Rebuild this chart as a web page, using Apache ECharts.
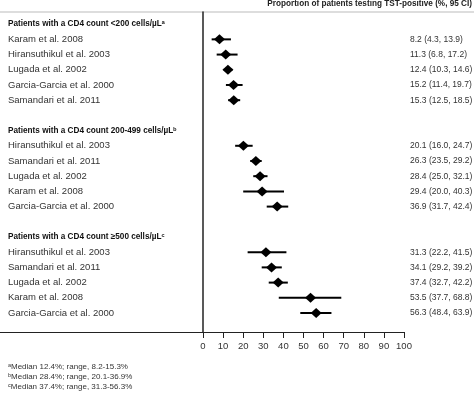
<!DOCTYPE html>
<html>
<head>
<meta charset="utf-8">
<script src="https://cdn.jsdelivr.net/npm/echarts@6/dist/echarts.min.js"></script>
<style>
html,body{margin:0;padding:0;background:#fff;}
#chart{width:474px;height:393px;}
</style>
</head>
<body>
<div id="chart"></div>
<script>
// ---- data ----
var groupHeaders = [
  'Patients with a CD4 count <200 cells/\u00b5L\u1d43',
  'Patients with a CD4 count 200-499 cells/\u00b5L\u1d47',
  'Patients with a CD4 count \u2265500 cells/\u00b5L\u1d9c'
];
var group1Studies = ['Karam et al. 2008', 'Hiransuthikul et al. 2003', 'Lugada et al. 2002', 'Garcia-Garcia et al. 2000', 'Samandari et al. 2011'];
var group1Est = [8.2, 11.3, 12.4, 15.2, 15.3];
var group1Lo = [4.3, 6.8, 10.3, 11.4, 12.5];
var group1Hi = [13.9, 17.2, 14.6, 19.7, 18.5];

var group2Studies = ['Hiransuthikul et al. 2003', 'Samandari et al. 2011', 'Lugada et al. 2002', 'Karam et al. 2008', 'Garcia-Garcia et al. 2000'];
var group2Est = [20.1, 26.3, 28.4, 29.4, 36.9];
var group2Lo = [16.0, 23.5, 25.0, 20.0, 31.7];
var group2Hi = [24.7, 29.2, 32.1, 40.3, 42.4];

var group3Studies = ['Hiransuthikul et al. 2003', 'Samandari et al. 2011', 'Lugada et al. 2002', 'Karam et al. 2008', 'Garcia-Garcia et al. 2000'];
var group3Est = [31.3, 34.1, 37.4, 53.5, 56.3];
var group3Lo = [22.2, 29.2, 32.7, 37.7, 48.4];
var group3Hi = [41.5, 39.2, 42.2, 68.8, 63.9];

var xTicks = [0, 10, 20, 30, 40, 50, 60, 70, 80, 90, 100];
var titleText = 'Proportion of patients testing TST-positive (%, 95 CI)';
var footnotes = [
  '\u1d43Median 12.4%; range, 8.2-15.3%',
  '\u1d47Median 28.4%; range, 20.1-36.9%',
  '\u1d9cMedian 37.4%; range, 31.3-56.3%'
];

// ---- build rows ----
var groups = [
  {s: group1Studies, e: group1Est, l: group1Lo, h: group1Hi},
  {s: group2Studies, e: group2Est, l: group2Lo, h: group2Hi},
  {s: group3Studies, e: group3Est, l: group3Lo, h: group3Hi}
];
var leftLabel = {}, rightLabel = {}, leftSlots = [], rightSlots = [];
var pts = [], bars = [];
groups.forEach(function (g, gi) {
  var hs = gi * 7;
  leftLabel[hs] = '{b|' + groupHeaders[gi] + '}';
  leftSlots.push(hs);
  g.s.forEach(function (name, i) {
    var slot = hs + 1 + i;
    leftLabel[slot] = '{n|' + name + '}';
    leftSlots.push(slot);
    rightLabel[slot] = g.e[i].toFixed(1) + ' (' + g.l[i].toFixed(1) + ', ' + g.h[i].toFixed(1) + ')';
    rightSlots.push(slot);
    pts.push([g.e[i], slot]);
    bars.push([g.l[i], g.h[i], slot]);
  });
});

var FONT = '"Liberation Sans", Arial, sans-serif';
var chart = echarts.init(document.getElementById('chart'));
chart.setOption({
  animation: false,
  backgroundColor: '#fff',
  title: {
    text: titleText, right: 2, top: 0, padding: 0,
    textStyle: {fontFamily: FONT, fontSize: 8.2, fontWeight: 'bold', color: '#222'}
  },
  grid: {left: 203, right: 70, top: 12, bottom: 61, containLabel: false, outerBoundsMode: 'none'},
  xAxis: {
    type: 'value', min: 0, max: 100,
    splitLine: {show: false},
    axisLine: {show: true, onZero: false, lineStyle: {color: '#222', width: 1}},
    axisTick: {show: true, customValues: xTicks, length: 6, lineStyle: {color: '#222'}},
    axisLabel: {show: true, customValues: xTicks, margin: 9, fontFamily: FONT, fontSize: 9.5, color: '#333'}
  },
  yAxis: [{
    type: 'value', inverse: true, min: -0.8, max: 20.25,
    splitLine: {show: false},
    axisLine: {show: true, onZero: false, lineStyle: {color: '#222', width: 1.5}},
    axisTick: {show: false},
    axisLabel: {
      show: true, customValues: leftSlots, align: 'left', margin: 195,
      formatter: function (v) { return leftLabel[v] || ''; },
      rich: {
        b: {fontFamily: FONT, fontSize: 8.2, fontWeight: 'bold', color: '#111'},
        n: {fontFamily: FONT, fontSize: 9.5, color: '#333'}
      }
    }
  }, {
    type: 'value', inverse: true, min: -0.8, max: 20.25, position: 'right',
    splitLine: {show: false},
    axisLine: {show: false, onZero: false},
    axisTick: {show: false},
    axisLabel: {
      show: true, customValues: rightSlots, align: 'left', margin: 6,
      formatter: function (v) { return rightLabel[v] || ''; },
      fontFamily: FONT, fontSize: 8.5, color: '#333'
    }
  }],
  graphic: [
    {type: 'line', shape: {x1: 0, y1: 12, x2: 474, y2: 12}, style: {stroke: '#bbb', lineWidth: 1}, silent: true},
    {type: 'line', shape: {x1: 0, y1: 332.5, x2: 203, y2: 332.5}, style: {stroke: '#222', lineWidth: 1}, silent: true},
    {type: 'text', left: 8, top: 363, style: {text: footnotes[0], fontFamily: FONT, fontSize: 8, fill: '#333'}},
    {type: 'text', left: 8, top: 373, style: {text: footnotes[1], fontFamily: FONT, fontSize: 8, fill: '#333'}},
    {type: 'text', left: 8, top: 383, style: {text: footnotes[2], fontFamily: FONT, fontSize: 8, fill: '#333'}}
  ],
  series: [{
    type: 'custom',
    data: bars,
    renderItem: function (params, api) {
      var a = api.coord([api.value(0), api.value(2)]);
      var b = api.coord([api.value(1), api.value(2)]);
      return {type: 'line', shape: {x1: a[0], y1: a[1], x2: b[0], y2: b[1]}, style: {stroke: '#000', lineWidth: 2}};
    },
    encode: {x: [0, 1], y: 2},
    silent: true
  }, {
    type: 'scatter',
    data: pts,
    symbol: 'diamond',
    symbolSize: [11, 10],
    itemStyle: {color: '#000', opacity: 1, borderWidth: 0},
    silent: true
  }]
});
</script>
</body>
</html>
